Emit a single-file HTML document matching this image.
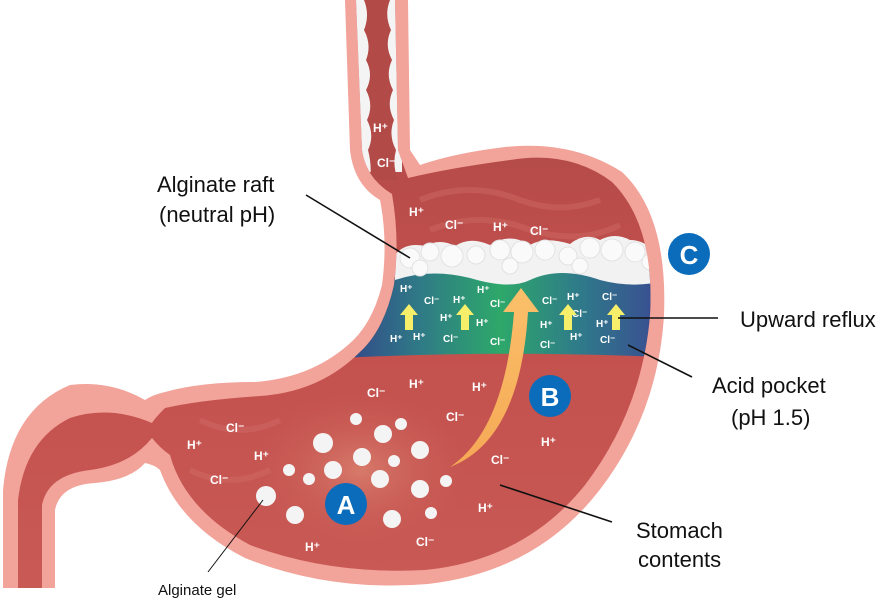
<!DOCTYPE html>
<html><head><meta charset="utf-8"><style>
html,body{margin:0;padding:0;background:#fff;}
svg{display:block}
.lb{font-family:"Liberation Sans",sans-serif;font-size:22px;fill:#111}
.ion{font-family:"Liberation Sans",sans-serif;font-weight:bold;font-size:12px;fill:#fff}
.ions{font-family:"Liberation Sans",sans-serif;font-weight:bold;font-size:10px;fill:#fff}
.cl{font-family:"Liberation Sans",sans-serif;font-weight:bold;font-size:26px;fill:#fff}
</style></head><body>
<svg width="896" height="600" viewBox="0 0 896 600" xmlns="http://www.w3.org/2000/svg">
<defs>
<linearGradient id="red" x1="0" y1="0" x2="0" y2="1">
<stop offset="0" stop-color="#a84846"/><stop offset="0.5" stop-color="#c24f4c"/><stop offset="1" stop-color="#c95a55"/>
</linearGradient>
<radialGradient id="glow" cx="0.5" cy="0.5" r="0.5">
<stop offset="0" stop-color="#d77a6a"/><stop offset="1" stop-color="#c95a55" stop-opacity="0"/>
</radialGradient>
<linearGradient id="band" x1="0" y1="0" x2="1" y2="0">
<stop offset="0" stop-color="#33448a"/><stop offset="0.25" stop-color="#2f7a86"/><stop offset="0.5" stop-color="#2ea86a"/><stop offset="0.75" stop-color="#2f7a8a"/><stop offset="1" stop-color="#3a4c92"/>
</linearGradient>
<linearGradient id="arrow" x1="0" y1="1" x2="0" y2="0">
<stop offset="0" stop-color="#f5a855"/><stop offset="1" stop-color="#fbc06a"/>
</linearGradient>
<clipPath id="inner"><path d="M356,0 L362,150 Q366,178 392,194 Q400,240 394,285 Q384,330 360,352 Q320,392 260,396 Q200,400 165,408 Q155,418 152,423 Q110,405 70,418 Q25,440 18,500 L18,588 L42,588 L42,505 Q48,475 90,470 Q130,465 152,438 Q160,448 170,455 Q185,510 250,545 Q330,575 425,570 Q525,560 585,485 Q642,410 650,315 Q655,225 612,182 Q570,150 510,160 Q450,168 408,178 L398,150 L395,0 Z"/></clipPath>
</defs>
<path d="M345,0 L350,150 Q354,185 380,200 Q388,240 382,285 Q372,325 348,345 Q310,378 255,382 Q200,382 165,392 Q152,395 145,400 Q110,380 70,385 Q10,410 3,490 L3,588 L55,588 L55,510 Q60,485 95,483 Q130,480 145,463 Q155,465 160,470 Q180,525 245,558 Q330,592 428,584 Q535,572 598,492 Q658,415 664,315 Q668,215 622,172 Q572,140 505,147 Q455,153 420,165 L410,150 L408,0 Z" fill="#f2a39a"/>
<g clip-path="url(#inner)">
<rect x="0" y="0" width="700" height="600" fill="url(#red)"/>
<ellipse cx="360" cy="470" rx="110" ry="80" fill="url(#glow)"/>
<path d="M420,200 Q470,180 520,200 Q560,215 600,200 M430,230 Q480,210 530,230 Q580,245 620,225 M200,420 Q240,440 280,420 M190,470 Q230,490 270,470" stroke="#d16e68" stroke-width="6" fill="none" opacity="0.4"/>
<!-- esophagus lumen: white with wavy red center -->
<rect x="350" y="0" width="52" height="172" fill="#f4f4f4"/>
<path d="M364,0 Q370,15 364,30 Q372,45 366,60 Q374,75 366,90 Q374,105 367,120 Q375,135 368,150 Q372,165 370,180 L398,180 Q392,165 396,150 Q388,135 394,120 Q386,105 393,90 Q385,75 392,60 Q384,45 391,30 Q384,15 390,0 Z" fill="#b24a47"/>
<!-- acid band -->
<path d="M360,270 L660,270 L660,357 Q500,350 340,358 Z" fill="url(#band)"/>
<!-- raft -->
<path d="M395,280 Q430,268 470,278 Q510,290 530,280 Q560,266 600,280 Q630,288 660,282 L660,262 Q650,240 630,240 Q615,232 600,240 Q585,232 570,244 Q545,236 530,245 Q510,232 490,245 Q470,236 455,246 Q440,238 425,246 Q405,242 395,255 Z" fill="#f2f2f2"/>
<g fill="#fafafa" stroke="#e2e2e2" stroke-width="1">
<circle cx="410" cy="258" r="10"/><circle cx="430" cy="252" r="9"/><circle cx="452" cy="256" r="11"/><circle cx="476" cy="255" r="9"/><circle cx="500" cy="250" r="10"/><circle cx="522" cy="252" r="11"/><circle cx="545" cy="250" r="10"/><circle cx="568" cy="256" r="9"/><circle cx="590" cy="248" r="10"/><circle cx="612" cy="250" r="11"/><circle cx="635" cy="252" r="10"/><circle cx="650" cy="262" r="8"/><circle cx="420" cy="268" r="8"/><circle cx="580" cy="266" r="8"/><circle cx="510" cy="266" r="8"/>
</g>
</g>
<g class="ion">
<text x="373" y="132">H⁺</text><text x="377" y="167">Cl⁻</text>
<text x="409" y="216">H⁺</text><text x="445" y="229">Cl⁻</text><text x="493" y="231">H⁺</text><text x="530" y="235">Cl⁻</text>
<text x="367" y="397">Cl⁻</text><text x="409" y="388">H⁺</text><text x="472" y="391">H⁺</text><text x="446" y="421">Cl⁻</text><text x="541" y="446">H⁺</text><text x="491" y="464">Cl⁻</text><text x="478" y="512">H⁺</text>
<text x="226" y="432">Cl⁻</text><text x="187" y="449">H⁺</text><text x="254" y="460">H⁺</text><text x="210" y="484">Cl⁻</text><text x="305" y="551">H⁺</text><text x="416" y="546">Cl⁻</text>
</g>
<g class="ions">
<text x="400" y="292">H⁺</text><text x="424" y="304">Cl⁻</text><text x="453" y="303">H⁺</text><text x="477" y="293">H⁺</text><text x="490" y="307">Cl⁻</text><text x="440" y="321">H⁺</text><text x="476" y="326">H⁺</text><text x="390" y="342">H⁺</text><text x="413" y="340">H⁺</text><text x="443" y="342">Cl⁻</text><text x="490" y="345">Cl⁻</text>
<text x="542" y="304">Cl⁻</text><text x="567" y="300">H⁺</text><text x="602" y="300">Cl⁻</text><text x="572" y="317">Cl⁻</text><text x="540" y="328">H⁺</text><text x="540" y="348">Cl⁻</text><text x="596" y="327">H⁺</text><text x="570" y="340">H⁺</text><text x="600" y="343">Cl⁻</text>
</g>
<g fill="#f7ef6a">
<path d="M405,330 L405,315 L400,315 L409,304 L418,315 L413,315 L413,330 Z"/>
<path d="M461,330 L461,315 L456,315 L465,304 L474,315 L469,315 L469,330 Z"/>
<path d="M564,330 L564,315 L559,315 L568,304 L577,315 L572,315 L572,330 Z"/>
<path d="M612,330 L612,315 L607,315 L616,304 L625,315 L620,315 L620,330 Z"/>
</g>
<path d="M450,467 Q505,430 514,312 L503,312 L521,288 L539,312 L528,312 Q520,440 450,467 Z" fill="url(#arrow)"/>
<g fill="#f4f4f4">
<circle cx="356" cy="419" r="6"/><circle cx="383" cy="434" r="9"/><circle cx="323" cy="443" r="10"/><circle cx="362" cy="457" r="9"/><circle cx="394" cy="461" r="6"/><circle cx="420" cy="450" r="9"/>
<circle cx="289" cy="470" r="6"/><circle cx="309" cy="479" r="6"/><circle cx="333" cy="470" r="9"/><circle cx="380" cy="479" r="9"/><circle cx="420" cy="489" r="9"/><circle cx="446" cy="481" r="6"/>
<circle cx="266" cy="496" r="10"/><circle cx="295" cy="515" r="9"/><circle cx="392" cy="519" r="9"/><circle cx="431" cy="513" r="6"/><circle cx="401" cy="424" r="6"/>
</g>
<circle cx="346" cy="504" r="21" fill="#0a6cba"/><text x="346" y="514" text-anchor="middle" class="cl">A</text>
<circle cx="550" cy="396" r="21" fill="#0a6cba"/><text x="550" y="406" text-anchor="middle" class="cl">B</text>
<circle cx="689" cy="254" r="21" fill="#0a6cba"/><text x="689" y="264" text-anchor="middle" class="cl">C</text>
<g stroke="#111" stroke-width="1.6" fill="none">
<line x1="306" y1="195" x2="410" y2="258"/>
<line x1="618" y1="318" x2="718" y2="318"/>
<line x1="628" y1="345" x2="692" y2="377"/>
<line x1="500" y1="485" x2="612" y2="522"/>
<line x1="263" y1="500" x2="208" y2="572" stroke-width="1"/>
</g>
<text class="lb" x="157" y="192">Alginate raft</text>
<text class="lb" x="159" y="222">(neutral pH)</text>
<text class="lb" x="740" y="327">Upward reflux</text>
<text class="lb" x="712" y="393">Acid pocket</text>
<text class="lb" x="731" y="425">(pH 1.5)</text>
<text class="lb" x="636" y="538">Stomach</text>
<text class="lb" x="638" y="567">contents</text>
<text class="lb" x="158" y="595" style="font-size:15px">Alginate gel</text>
</svg>
</body></html>
